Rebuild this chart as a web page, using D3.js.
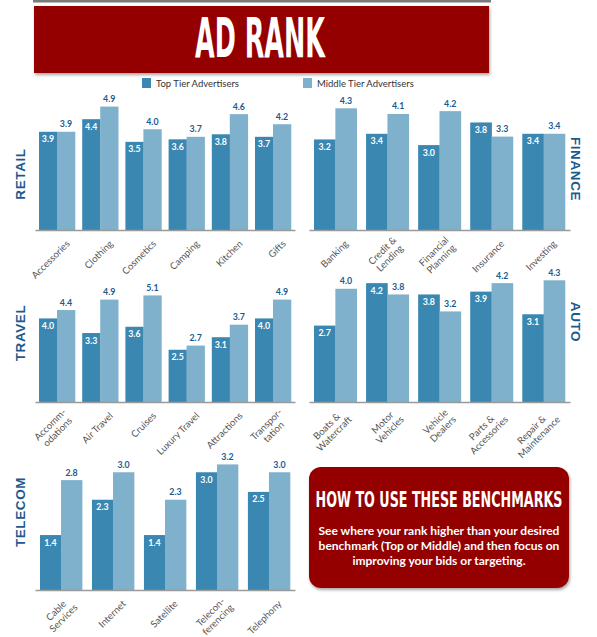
<!DOCTYPE html>
<html>
<head>
<meta charset="utf-8">
<script src="https://cdn.jsdelivr.net/npm/d3@7"></script>
<style>
  body { margin: 0; background: #fff; }
  svg { display: block; }
</style>
</head>
<body>
<div id="chart"></div>
<script>

// series names
var seriesNames = ["Top Tier Advertisers", "Middle Tier Advertisers"];

// retail
var retailCats = ["Accessories", "Clothing", "Cosmetics", "Camping", "Kitchen", "Gifts"];
var retailTop  = [3.9, 4.4, 3.5, 3.6, 3.8, 3.7];
var retailMid  = [3.9, 4.9, 4.0, 3.7, 4.6, 4.2];

// finance
var financeCats = ["Banking", "Credit &\nLending", "Financial\nPlanning", "Insurance", "Investing"];
var financeTop  = [3.2, 3.4, 3.0, 3.8, 3.4];
var financeMid  = [4.3, 4.1, 4.2, 3.3, 3.4];

// travel
var travelCats = ["Accomm-\nodations", "Air Travel", "Cruises", "Luxury Travel", "Attractions", "Transpor-\ntation"];
var travelTop  = [4.0, 3.3, 3.6, 2.5, 3.1, 4.0];
var travelMid  = [4.4, 4.9, 5.1, 2.7, 3.7, 4.9];

// auto
var autoCats = ["Boats &\nWatercraft", "Motor\nVehicles", "Vehicle\nDealers", "Parts &\nAccessories", "Repair &\nMaintenance"];
var autoTop  = [2.7, 4.2, 3.8, 3.9, 3.1];
var autoMid  = [4.0, 3.8, 3.2, 4.2, 4.3];

// telecom
var telecomCats = ["Cable\nServices", "Internet", "Satellite", "Telecon-\nferencing", "Telephony"];
var telecomTop  = [1.4, 2.3, 1.4, 3.0, 2.5];
var telecomMid  = [2.8, 3.0, 2.3, 3.2, 3.0];

var W = 597, H = 637;
var darkBlue = "#3a87b2", lightBlue = "#7fb1cd";
var labelBlue = "#1c5a8e", red = "#940606";
var narrowFont = "'Liberation Sans Narrow', 'DejaVu Sans Condensed', sans-serif";

var svg = d3.select("#chart").append("svg")
	.attr("width", W)
	.attr("height", H);

var defs = svg.append("defs");
var shadow = defs.append("filter").attr("id", "shadow")
	.attr("x", "-5%").attr("y", "-5%").attr("width", "115%").attr("height", "125%");
shadow.append("feDropShadow")
	.attr("dx", 1).attr("dy", 2).attr("stdDeviation", 1.5)
	.attr("flood-color", "#000").attr("flood-opacity", 0.35);

// condensed heading squeezed to a target width
function heading(parent, txt, cx, by, size, width){
	var t = parent.append("text")
		.attr("text-anchor", "middle")
		.attr("font-family", narrowFont)
		.attr("font-weight", "bold")
		.attr("font-size", size)
		.attr("fill", "#fff")
		.text(txt);
	var k = width / t.node().getComputedTextLength();
	t.attr("transform", "translate(" + cx + "," + by + ") scale(" + k + ",1)");
	return t;
}

// header
svg.append("rect").attr("x", 33).attr("y", 0).attr("width", 458).attr("height", 2.5).attr("fill", "#7a7a7a");
svg.append("rect").attr("x", 34).attr("y", 6).attr("width", 455).attr("height", 67)
	.attr("fill", red).attr("filter", "url(#shadow)");
heading(svg, "AD RANK", 260, 57, 56, 130);

// legend
var legendX = [142, 303];
seriesNames.forEach(function(name, i){
	svg.append("rect").attr("x", legendX[i]).attr("y", 78).attr("width", 9).attr("height", 10)
		.attr("fill", i == 0 ? darkBlue : lightBlue);
	svg.append("text").attr("x", legendX[i] + 14).attr("y", 87)
		.attr("font-family", "Lato, sans-serif").attr("font-size", 9.5).attr("fill", "#333")
		.text(name);
});

var panels = [
	{ name: "RETAIL",  cats: retailCats,  top: retailTop,  mid: retailMid,  x0: 35,  x1: 295, base: 230, yMax: 5.36, pi: 0.167, po: 0.093, lx: 20,  ly: 174, rot: -90 },
	{ name: "FINANCE", cats: financeCats, top: financeTop, mid: financeMid, x0: 309, x1: 570, base: 230, yMax: 4.77, pi: 0.18,  po: 0.096, lx: 576, ly: 169, rot: 90 },
	{ name: "TRAVEL",  cats: travelCats,  top: travelTop,  mid: travelMid,  x0: 35,  x1: 295, base: 402, yMax: 6.46, pi: 0.167, po: 0.093, lx: 20,  ly: 333, rot: -90 },
	{ name: "AUTO",    cats: autoCats,    top: autoTop,    mid: autoMid,    x0: 309, x1: 570, base: 402, yMax: 4.77, pi: 0.18,  po: 0.096, lx: 576, ly: 322, rot: 90 },
	{ name: "TELECOM", cats: telecomCats, top: telecomTop, mid: telecomMid, x0: 35,  x1: 295, base: 590, yMax: 3.44, pi: 0.19,  po: 0.096, lx: 20,  ly: 512, rot: -90 }
];

function drawPanel(p){

	var g = svg.append("g");

	var x = d3.scaleBand().domain(p.cats).range([p.x0, p.x1])
		.paddingInner(p.pi).paddingOuter(p.po);
	var sub = d3.scaleBand().domain([0, 1]).range([0, x.bandwidth()]);
	var y = d3.scaleLinear().domain([0, p.yMax]).range([p.base, p.base - 135]);

	var rows = p.cats.map(function(c, i){ return { cat: c, vals: [p.top[i], p.mid[i]] }; });

	var groups = g.selectAll(".grp").data(rows).enter().append("g")
		.attr("transform", function(d){ return "translate(" + x(d.cat) + ",0)"; });

	groups.selectAll("rect").data(function(d){ return d.vals; }).enter().append("rect")
		.attr("x", function(d, i){ return sub(i); })
		.attr("y", function(d){ return y(d); })
		.attr("width", sub.bandwidth() + 0.3)
		.attr("height", function(d){ return y(0) - y(d); })
		.attr("fill", function(d, i){ return i == 0 ? darkBlue : lightBlue; });

	groups.selectAll(".val").data(function(d){ return d.vals; }).enter().append("text")
		.attr("x", function(d, i){ return sub(i) + sub.bandwidth() / 2; })
		.attr("y", function(d, i){ return i == 0 ? y(d) + 10.5 : y(d) - 4.5; })
		.attr("text-anchor", "middle")
		.attr("font-family", "Lato, sans-serif")
		.attr("font-weight", "bold")
		.attr("font-size", 8.8)
		.attr("fill", function(d, i){ return i == 0 ? "#fff" : labelBlue; })
		.text(function(d){ return d.toFixed(1); });

	var axis = d3.axisBottom(x).tickSizeInner(0).tickSizeOuter(0).tickFormat("");
	var ax = g.append("g").attr("transform", "translate(0," + p.base + ")").call(axis);
	ax.select(".domain").attr("stroke", "#9a9a9a").attr("stroke-width", 1.5);

	ax.selectAll(".tick").each(function(c){
		var lines = c.split("\n");
		var t = d3.select(this).append("text")
			.attr("transform", "translate(11,12) rotate(-45)")
			.attr("font-family", "Lato, sans-serif")
			.attr("font-size", 9.6)
			.attr("fill", "#555")
			.attr("text-anchor", "middle");
		var spans = t.selectAll("tspan").data(lines).enter().append("tspan")
			.attr("y", function(d, i){ return (i - (lines.length - 1) / 2) * 10.5; })
			.attr("dy", "0.35em")
			.text(function(d){ return d; });
		var maxW = 0;
		spans.each(function(){ maxW = Math.max(maxW, this.getComputedTextLength()); });
		spans.attr("x", -maxW / 2);
	});

	svg.append("text")
		.attr("transform", "translate(" + p.lx + "," + p.ly + ") rotate(" + p.rot + ")")
		.attr("text-anchor", "middle")
		.attr("dy", "0.35em")
		.attr("font-family", "'Liberation Sans', Arial, sans-serif")
		.attr("font-weight", "bold")
		.attr("font-size", 13.5)
		.attr("letter-spacing", 0.6)
		.attr("fill", labelBlue)
		.text(p.name);
}

panels.forEach(drawPanel);

// benchmark note box
var note = svg.append("g");
note.append("rect").attr("x", 309).attr("y", 467).attr("width", 260).attr("height", 121)
	.attr("rx", 12).attr("ry", 12).attr("fill", red).attr("filter", "url(#shadow)");
heading(note, "HOW TO USE THESE BENCHMARKS", 439, 507, 22, 247);

var noteLines = ["See where your rank higher than your desired",
	"benchmark (Top or Middle) and then focus on",
	"improving your bids or targeting."];
note.selectAll(".ln").data(noteLines).enter().append("text")
	.attr("x", 439)
	.attr("y", function(d, i){ return 535 + i * 15; })
	.attr("text-anchor", "middle")
	.attr("font-family", "Lato, sans-serif")
	.attr("font-weight", "bold")
	.attr("font-size", 12)
	.attr("fill", "#fff")
	.text(function(d){ return d; });

</script>
</body>
</html>
